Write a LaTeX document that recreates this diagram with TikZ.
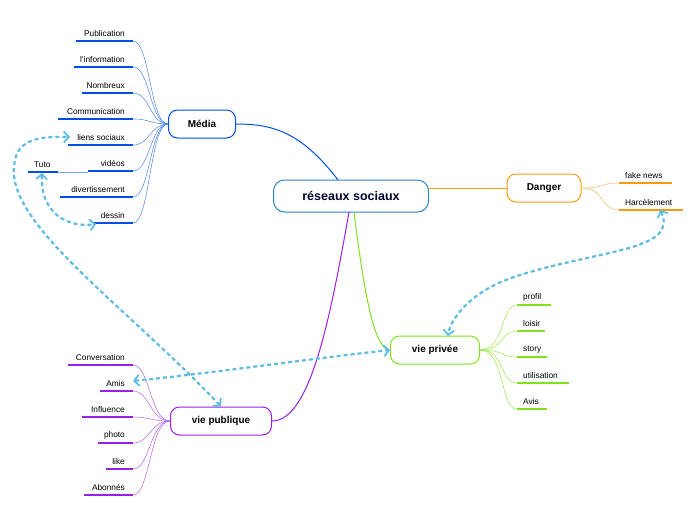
\documentclass[tikz,border=0pt]{standalone}
\usepackage{fontspec}
\setmainfont{Liberation Sans}
\usetikzlibrary{arrows.meta}
\begin{document}
\begin{tikzpicture}[x=1pt,y=-1pt,
 box/.style={draw,rounded corners=9pt,line width=1pt,fill=white,font=\bfseries\fontsize{10}{12}\selectfont},
 lbl/.style={font=\fontsize{8.3}{10}\selectfont,anchor=south east,inner sep=1pt},
 rl/.style={font=\fontsize{8.3}{10}\selectfont,anchor=south west,inner sep=1pt},
 bb/.tip={Straight Barb[length=5pt,width=11pt,line width=1.8pt]},
 rel/.style={draw=relc,line width=2.2pt,dash pattern=on 4pt off 3pt,bb-bb}]
\definecolor{bl}{HTML}{0050E6}\definecolor{cb}{HTML}{2E86C1}
\definecolor{og}{HTML}{F39C12}\definecolor{gr}{HTML}{7FE31A}
\definecolor{pu}{HTML}{9B1FE8}\definecolor{relc}{HTML}{5DBCE6}
\useasboundingbox (0,0) rectangle (696,520);
\node[box,draw=cb,minimum width=155pt,minimum height=32pt,rounded corners=11pt,font=\bfseries\fontsize{12.5}{14}\selectfont,text=black!80!blue] (c) at (351,196) {réseaux sociaux};
\node[box,draw=bl,minimum width=67pt,minimum height=28pt] (m) at (202,124) {Média};
\node[box,draw=og,minimum width=74pt,minimum height=28pt] (d) at (544,188) {Danger};
\node[box,draw=gr,minimum width=89pt,minimum height=28pt] (v) at (435,350) {vie privée};
\node[box,draw=pu,minimum width=101pt,minimum height=28pt] (p) at (221,421) {vie publique};
\draw[bl,line width=1pt] (338,180) .. controls (300,130) and (270,124) .. (m.east);
\draw[og,line width=1pt] (c.east|-0,188) -- (d.west);
\draw[gr,line width=1pt] (354,212) .. controls (365,300) and (375,350) .. (v.west);
\draw[pu,line width=1pt] (349,212) .. controls (330,320) and (310,421) .. (p.east);
% media children
\foreach \t/\y/\x in {Publication/41/76,l'information/67/74,Nombreux/93/82,Communication/119/58,liens sociaux/145/68,vidéos/171/88,divertissement/197/60,dessin/223/94}{
 \coordinate (e) at (133,\y);
 \draw[bl,line width=1.6pt] (\x,\y) -- (e);
 \node[lbl] at (126,\y-3) {\t};
 \draw[bl!70,line width=0.5pt] (m.west) .. controls (150,124) and (150,\y) .. (e);
}
\draw[bl!50,line width=1pt] (58,172) -- (88,172);
\draw[bl,line width=1.6pt] (28,172) -- (58,172);
\node[rl] at (33,169) {Tuto};
% danger children
\foreach \t/\y/\x in {fake news/183/672,Harcèlement/210/683}{
 \draw[og,line width=1.6pt] (619,\y) -- (\x,\y);
 \node[rl] at (624,\y-3) {\t};
 \draw[og!70,line width=0.5pt] (d.east) .. controls (605,188) and (600,\y) .. (619,\y);
}
% vie privee children
\foreach \t/\y/\x in {profil/305/551,loisir/331/545,story/357/547,utilisation/383/569,Avis/409/547}{
 \draw[gr,line width=1.6pt] (517,\y) -- (\x,\y);
 \node[rl] at (522,\y-3) {\t};
 \draw[gr!80,line width=0.5pt] (v.east) .. controls (505,350) and (500,\y) .. (517,\y);
}
% vie publique children
\foreach \t/\y/\x in {Conversation/365/68,Amis/391/100,Influence/417/82,photo/443/98,like/469/106,Abonnés/495/84}{
 \draw[pu,line width=1.6pt] (\x,\y) -- (133,\y);
 \node[lbl] at (126,\y-3) {\t};
 \draw[pu!70,line width=0.5pt] (p.west) .. controls (150,421) and (150,\y) .. (133,\y);
}
% relations
\coordinate (ls) at (70,137); \coordinate (tu) at (42,173); \coordinate (ds) at (96,224);
\coordinate (am) at (133,381); \coordinate (ha) at (660,210);
\draw[rel] (p.north) .. controls (120,300) and (0,220) .. (15,160) .. controls (20,135) and (50,137) .. (ls);
\draw[rel] (tu) .. controls (40,215) and (70,228) .. (ds);
\draw[rel] (am) .. controls (220,372) and (300,360) .. (v.west);
\draw[rel] (ha) .. controls (680,250) and (600,250) .. (520,275) .. controls (470,290) and (450,320) .. (448,336);
\end{tikzpicture}
\end{document}
